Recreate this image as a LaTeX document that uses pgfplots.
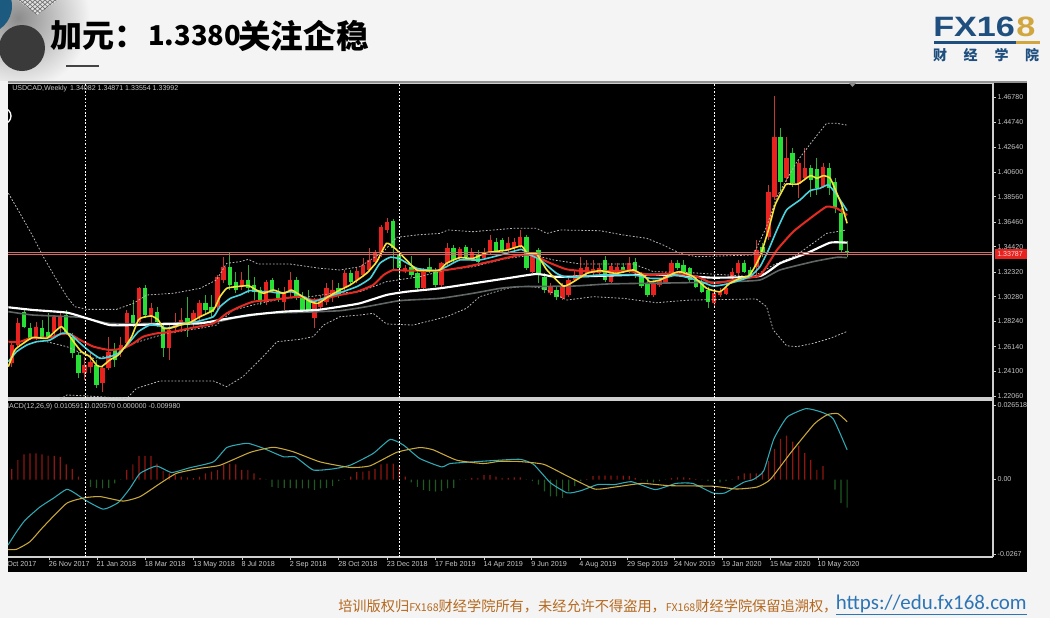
\documentclass[border=0pt]{standalone}
\usepackage{fontspec}
\usepackage{pgfplots}
\usepackage{pgfplotstable}
\pgfplotsset{compat=1.18}
\setmainfont{Liberation Sans}
\newfontfamily\cjk{Noto Sans CJK SC}
\newfontfamily\link{Carlito}
\definecolor{bgc}{HTML}{F4F4F4}
\definecolor{cR}{HTML}{E8231F}
\definecolor{cG}{HTML}{27DF35}
\definecolor{wR}{HTML}{C23A30}
\definecolor{wG}{HTML}{2FAE35}
\definecolor{eY}{HTML}{F6E23C}
\definecolor{eC}{HTML}{4CD3E0}
\definecolor{eR}{HTML}{E22B22}
\definecolor{eD}{HTML}{5F6665}
\definecolor{bb}{HTML}{B8B8B8}
\definecolor{hl}{HTML}{D46A66}
\definecolor{mC}{HTML}{2FA9B6}
\definecolor{mY}{HTML}{C9A93C}
\definecolor{hR}{HTML}{8E1712}
\definecolor{hG}{HTML}{1C5A20}
\definecolor{axc}{HTML}{CFCFCF}
\definecolor{lbl}{HTML}{C8C8C8}
\definecolor{fxb}{HTML}{1E4F7E}
\definecolor{fxg}{HTML}{D2A63E}
\definecolor{dBlue}{HTML}{1C5A80}
\definecolor{dDark}{HTML}{3A3A3A}
\definecolor{dBar}{HTML}{444444}
\definecolor{fOr}{HTML}{B4681E}
\definecolor{fLn}{HTML}{2E75B6}
\pgfplotstableread{
k top bot high low
2 1.2629 1.2477 1.2656 1.2449
3 1.2808 1.2629 1.2850 1.2615
6 1.2781 1.2684 1.2822 1.2670
9 1.2858 1.2739 1.2877 1.2712
10 1.2858 1.2781 1.2891 1.2725
14 1.2463 1.2394 1.2532 1.2339
15 1.2491 1.2449 1.2574 1.2394
17 1.2436 1.2311 1.2463 1.2242
18 1.2574 1.2436 1.2698 1.2422
20 1.2629 1.2574 1.2698 1.2532
21 1.2891 1.2643 1.2919 1.2615
23 1.3098 1.2822 1.3112 1.2794
25 1.2932 1.2863 1.2974 1.2808
28 1.2753 1.2601 1.2794 1.2505
29 1.2808 1.2767 1.2891 1.2725
30 1.2836 1.2794 1.2932 1.2753
32 1.2891 1.2822 1.2919 1.2767
33 1.2974 1.2863 1.3001 1.2836
36 1.3195 1.2946 1.3208 1.2919
37 1.3277 1.3167 1.3360 1.3139
40 1.3167 1.3112 1.3236 1.3084
44 1.3153 1.2988 1.3167 1.2960
47 1.3057 1.2988 1.3112 1.2919
48 1.3167 1.3084 1.3236 1.3029
52 1.2974 1.2850 1.3015 1.2767
53 1.3001 1.2946 1.3043 1.2919
54 1.3098 1.2988 1.3139 1.2960
55 1.3084 1.3029 1.3167 1.2988
57 1.3222 1.3112 1.3250 1.3084
59 1.3244 1.3167 1.3277 1.3139
60 1.3291 1.3208 1.3346 1.3195
61 1.3333 1.3250 1.3429 1.3236
62 1.3388 1.3319 1.3415 1.3291
63 1.3609 1.3388 1.3622 1.3360
64 1.3650 1.3581 1.3678 1.3553
67 1.3264 1.3244 1.3291 1.3222
70 1.3236 1.3098 1.3264 1.3084
73 1.3305 1.3126 1.3319 1.3112
74 1.3429 1.3305 1.3471 1.3291
76 1.3424 1.3346 1.3443 1.3333
78 1.3402 1.3346 1.3429 1.3333
80 1.3402 1.3346 1.3429 1.3333
81 1.3498 1.3402 1.3540 1.3374
84 1.3471 1.3415 1.3526 1.3402
85 1.3484 1.3429 1.3512 1.3415
86 1.3526 1.3443 1.3581 1.3429
88 1.3374 1.3236 1.3388 1.3222
91 1.3112 1.3057 1.3139 1.3043
93 1.3112 1.3015 1.3139 1.3001
94 1.3167 1.3043 1.3195 1.3029
95 1.3208 1.3167 1.3250 1.3153
96 1.3264 1.3208 1.3360 1.3195
97 1.3272 1.3222 1.3333 1.3195
98 1.3255 1.3222 1.3333 1.3195
99 1.3264 1.3222 1.3305 1.3195
101 1.3283 1.3153 1.3305 1.3139
102 1.3277 1.3222 1.3305 1.3208
104 1.3305 1.3250 1.3360 1.3222
108 1.3139 1.3043 1.3167 1.3029
109 1.3167 1.3126 1.3181 1.3112
110 1.3222 1.3153 1.3236 1.3139
111 1.3305 1.3222 1.3333 1.3208
118 1.3057 1.2974 1.3084 1.2946
119 1.3070 1.3043 1.3098 1.3029
120 1.3098 1.3051 1.3139 1.3043
121 1.3236 1.3195 1.3264 1.3167
122 1.3305 1.3228 1.3333 1.3208
125 1.3415 1.3277 1.3498 1.3195
127 1.3898 1.3526 1.3954 1.3498
128 1.4354 1.3857 1.4691 1.3829
130 1.4174 1.4009 1.4354 1.3981
132 1.4133 1.3962 1.4161 1.3843
133 1.4092 1.4009 1.4257 1.3995
136 1.4105 1.3940 1.4133 1.3926
}\redc
\pgfplotstableread{
k top bot high low
4 1.2899 1.2781 1.2919 1.2767
5 1.2767 1.2684 1.2808 1.2670
7 1.2767 1.2698 1.2836 1.2684
8 1.2739 1.2698 1.2891 1.2684
11 1.2877 1.2739 1.2919 1.2712
12 1.2698 1.2560 1.2725 1.2518
13 1.2546 1.2394 1.2574 1.2353
16 1.2463 1.2298 1.2505 1.2270
19 1.2587 1.2505 1.2643 1.2449
22 1.2877 1.2808 1.3001 1.2781
24 1.3098 1.2877 1.3126 1.2850
26 1.2899 1.2822 1.2946 1.2781
27 1.2781 1.2601 1.2808 1.2532
31 1.2850 1.2794 1.3029 1.2698
34 1.2974 1.2919 1.3043 1.2877
35 1.2946 1.2905 1.3043 1.2863
38 1.3277 1.3126 1.3388 1.3084
39 1.3153 1.3084 1.3236 1.3057
41 1.3167 1.3098 1.3291 1.3057
42 1.3126 1.3070 1.3195 1.3001
43 1.3084 1.2988 1.3112 1.2960
45 1.3167 1.3084 1.3181 1.3057
46 1.3057 1.3015 1.3098 1.2988
49 1.3167 1.3029 1.3195 1.3001
50 1.3029 1.2919 1.3070 1.2905
51 1.3001 1.2905 1.3084 1.2891
56 1.3098 1.3043 1.3139 1.3015
58 1.3222 1.3153 1.3250 1.3126
65 1.3658 1.3429 1.3669 1.3250
66 1.3374 1.3264 1.3402 1.3167
68 1.3277 1.3208 1.3366 1.3195
69 1.3222 1.3098 1.3264 1.3070
71 1.3277 1.3250 1.3346 1.3222
72 1.3236 1.3126 1.3264 1.3112
75 1.3429 1.3333 1.3457 1.3319
77 1.3443 1.3355 1.3457 1.3333
79 1.3374 1.3319 1.3415 1.3291
82 1.3484 1.3402 1.3512 1.3388
83 1.3498 1.3410 1.3512 1.3388
87 1.3526 1.3264 1.3540 1.3250
89 1.3415 1.3222 1.3429 1.3139
90 1.3195 1.3084 1.3222 1.3057
92 1.3084 1.3023 1.3112 1.3001
100 1.3333 1.3167 1.3366 1.3153
103 1.3277 1.3236 1.3305 1.3222
105 1.3319 1.3250 1.3346 1.3181
106 1.3208 1.3117 1.3236 1.3098
107 1.3139 1.3043 1.3167 1.3029
112 1.3305 1.3264 1.3333 1.3250
113 1.3291 1.3236 1.3333 1.3195
114 1.3264 1.3167 1.3277 1.3153
115 1.3167 1.3112 1.3195 1.3098
116 1.3153 1.3070 1.3181 1.3057
117 1.3084 1.2988 1.3112 1.2932
123 1.3310 1.3236 1.3333 1.3222
124 1.3250 1.3208 1.3277 1.3195
126 1.3443 1.3402 1.3471 1.3360
129 1.4354 1.3981 1.4423 1.3898
131 1.4221 1.3967 1.4257 1.3940
134 1.4092 1.3995 1.4119 1.3857
135 1.4083 1.3926 1.4174 1.3871
137 1.4092 1.3926 1.4133 1.3871
138 1.3981 1.3774 1.4009 1.3719
139 1.3719 1.3415 1.3760 1.3402
140 1.3408 1.3399 1.3487 1.3355
}\greenc
\pgfplotsset{
 panel/.style={scale only axis, width=738.75pt, xmin=1.37, xmax=164.1,
  axis x line*=bottom, axis y line*=right, axis line style={draw=axc, line width=0.8pt, -},
  tick style={draw=axc, line width=0.5pt}, tick align=outside, major tick length=2.2pt,
  clip=true, scaled y ticks=false, scaled x ticks=false,
  yticklabel style={text=lbl, font=\fontsize{5.3}{6}\selectfont, anchor=west, xshift=0.6pt, inner sep=0.5pt},
  xticklabel style={text=lbl, font=\fontsize{5.4}{6}\selectfont, anchor=north west, xshift=-1pt, yshift=-0.6pt, inner sep=0.5pt}},
 ma/.style={smooth, tension=0.3, no markers, line join=round, forget plot},
 band/.style={no markers, line width=0.6pt, bb, dash pattern=on 1.3pt off 1.3pt, forget plot},
}
\begin{document}
\begin{tikzpicture}
\clip (0,0) rectangle (787.5pt,-463.5pt);
\begin{scope}[x=0.75pt,y=-0.75pt]
\fill[bgc] (0,0) rectangle (1050,618);
\begin{scope}
\clip (0,0) rectangle (1050,80);
\shade[inner color=black!45, outer color=bgc] (18,18) circle (72);
\begin{scope}
\clip (18,0) -- (58,0) -- (37,15) -- cycle;
\fill[black!12] (18,0) rectangle (58,15);
\foreach \i in {-8,...,12} {
 \draw[black!60,line width=0.45pt] (20+\i*5,0) -- (45+\i*5,22);
 \draw[black!60,line width=0.45pt] (55+\i*5,0) -- (30+\i*5,22);}
\end{scope}
\fill[dBlue] (-16,6) circle (28) ;
\fill[dDark] (22,48) circle (23);
\end{scope}
\node[anchor=west,inner sep=0,font=\cjk\bfseries\fontsize{24}{26}\selectfont] at (50,36) {加元：};
\node[anchor=west,inner sep=0,font=\cjk\bfseries\fontsize{20.5}{26}\selectfont] at (148,36) {1.3380};
\node[anchor=west,inner sep=0,font=\cjk\bfseries\fontsize{24.5}{26}\selectfont] at (238,36) {关注企稳};
\fill[dBar] (66,65) rectangle (99,67);
\node[anchor=west,inner sep=0,xscale=1.22,transform shape,font=\bfseries\fontsize{21}{24}\selectfont,text=fxb] at (933,27) {FX16};
\node[anchor=west,inner sep=0,xscale=1.22,transform shape,font=\bfseries\fontsize{21}{24}\selectfont,text=fxg] at (1016,27) {8};
\fill[fxb] (934,41) rectangle (1016,44);
\fill[fxg] (1016,41) rectangle (1040,44);
\foreach \x/\c in {940/财,970.5/经,1001.5/学,1032/院}
 \node[inner sep=0,text=fxb,font=\cjk\bfseries\fontsize{10.5}{12}\selectfont] at (\x,55) {\c};
\fill[black] (8,83) rectangle (1027,572);
\fill[bgc!60!black] (8,81) rectangle (1027,83);
\end{scope}
\begin{axis}[panel, at={(6pt,-298.5pt)}, anchor=south west, height=236.25pt,
  ymin=1.2190, ymax=1.4798, xtick=\empty,
  ytick={1.2206,1.2410,1.2614,1.2824,1.3028,1.3232,1.3442,1.3646,1.3856,1.4060,1.4264,1.4474,1.4678},
  yticklabels={1.22060,1.24100,1.26140,1.28240,1.30280,1.32320,1.34420,1.36460,1.38560,1.40600,1.42640,1.44740,1.46780}]
\addplot[draw=none,no markers,forget plot,error bars/.cd,y dir=plus,y explicit,error mark=none,error bar style={draw=wR,line width=0.55pt}] table[x=k,y=low,y error expr=\thisrow{high}-\thisrow{low}] {\redc};
\addplot[draw=none,no markers,forget plot,error bars/.cd,y dir=plus,y explicit,error mark=none,error bar style={draw=wG,line width=0.55pt}] table[x=k,y=low,y error expr=\thisrow{high}-\thisrow{low}] {\greenc};
\addplot[draw=none,no markers,forget plot,error bars/.cd,y dir=plus,y explicit,error mark=none,error bar style={draw=cR,line width=3.3pt}] table[x=k,y=bot,y error expr=\thisrow{top}-\thisrow{bot}] {\redc};
\addplot[draw=none,no markers,forget plot,error bars/.cd,y dir=plus,y explicit,error mark=none,error bar style={draw=cG,line width=3.3pt}] table[x=k,y=bot,y error expr=\thisrow{top}-\thisrow{bot}] {\greenc};
% Bollinger bands
\addplot[band] coordinates {(1.43,1.3885)(3.35,1.3719)(5.5,1.3526)(7.2,1.3360)(9.1,1.3195)(11.1,1.3029)(12.4,1.2946)(14.4,1.2924)(19.3,1.2924)(22.1,1.2974)(24.3,1.3043)(28.7,1.3057)(33.1,1.3098)(35.8,1.3167)(37.5,1.3305)(39.7,1.3319)(41.1,1.3338)(42.7,1.3299)(48,1.3299)(52.9,1.3264)(56.2,1.3250)(59.5,1.3277)(63.4,1.3402)(65.6,1.3520)(68.9,1.3540)(72.7,1.3553)(74.1,1.3581)(78.2,1.3567)(84.9,1.3595)(88.7,1.3595)(90.4,1.3553)(92.6,1.3581)(99.2,1.3575)(103,1.3540)(106.9,1.3512)(109.6,1.3457)(112.4,1.3388)(115.1,1.3360)(124.5,1.3374)(126.7,1.3609)(128.4,1.3857)(131.7,1.4147)(134.4,1.4326)(136.6,1.4464)(138.3,1.4464)(139.9,1.4450)};
\addplot[band] coordinates {(9,1.2150)(11.1,1.2215)(14.4,1.2207)(21,1.2187)(22.6,1.2270)(26.5,1.2331)(35.3,1.2331)(37.5,1.2284)(40.2,1.2367)(43.5,1.2532)(45.8,1.2656)(49.6,1.2676)(51.8,1.2698)(53.5,1.2794)(56.2,1.2863)(59.5,1.2877)(61.7,1.2891)(63.9,1.2803)(68.3,1.2794)(73.8,1.2863)(77.1,1.2932)(79.3,1.3029)(83.8,1.3098)(87.1,1.3117)(89.8,1.3098)(93.7,1.3001)(98.1,1.3029)(103,1.3015)(108.5,1.2979)(114,1.3001)(125,1.3010)(126.7,1.2946)(127.8,1.2753)(130,1.2623)(131.7,1.2615)(134.4,1.2643)(137.2,1.2684)(139.9,1.2739)};
\addplot[band] coordinates {(7.76,1.2656)(11.1,1.2615)(15.5,1.2518)(18.8,1.2546)(22.1,1.2643)(24.8,1.2684)(27.6,1.2725)(33.1,1.2767)(35.8,1.2794)(38.6,1.2919)(43,1.2974)(46.9,1.3015)(51.3,1.3029)(55.1,1.3057)(59.5,1.3070)(63.9,1.3153)(69.4,1.3195)(73.8,1.3250)(78.2,1.3277)(83.8,1.3346)(88.2,1.3374)(91.5,1.3333)(95.9,1.3300)(104.7,1.3300)(108,1.3236)(114,1.3228)(124.5,1.3195)(127.8,1.3291)(131.1,1.3360)(132.8,1.3415)(136.6,1.3553)(139.9,1.3581)};
% dark slow average
\addplot[ma,eD,line width=1.2pt] coordinates {(1.43,1.2905)(5.5,1.2877)(13.3,1.2858)(18.2,1.2808)(26.5,1.2808)(35.8,1.2822)(38.6,1.2850)(44.1,1.2891)(49.6,1.2899)(56.2,1.2913)(60.6,1.2946)(66.1,1.2996)(72.7,1.3015)(78.2,1.3057)(82.7,1.3098)(86,1.3112)(94.8,1.3117)(100.3,1.3134)(105.8,1.3139)(114,1.3145)(120.6,1.3153)(125.6,1.3167)(128.9,1.3250)(134.4,1.3319)(138.3,1.3355)(140,1.3352)};
% white
\addplot[ma,white,line width=1.6pt] coordinates {(1.43,1.2941)(5.5,1.2919)(11.1,1.2897)(14.4,1.2850)(18.2,1.2794)(22.1,1.2794)(27.6,1.2803)(33.1,1.2808)(36.4,1.2836)(41.3,1.2877)(46.9,1.2905)(52.4,1.2919)(56.2,1.2946)(59.5,1.2974)(63.9,1.3043)(67.2,1.3070)(72.7,1.3098)(78.2,1.3139)(83.8,1.3181)(88.7,1.3217)(91.5,1.3195)(94.8,1.3195)(100.3,1.3203)(105.8,1.3211)(111.3,1.3208)(117.9,1.3186)(125.6,1.3200)(128.9,1.3305)(133.3,1.3388)(137.2,1.3476)(140,1.3476)};
% red
\addplot[ma,eR,line width=1.5pt] coordinates {(1.43,1.2656)(3.35,1.2656)(5,1.2684)(8.3,1.2692)(10.2,1.2720)(11.6,1.2720)(13.3,1.2670)(15.5,1.2615)(18.2,1.2587)(20.4,1.2601)(22.1,1.2643)(23.7,1.2698)(25.9,1.2725)(28.7,1.2739)(31.4,1.2767)(35.3,1.2808)(37.5,1.2891)(39.7,1.2946)(41.9,1.2988)(44.7,1.3001)(46.9,1.3015)(49.6,1.3029)(51.8,1.3001)(54,1.3015)(56.2,1.3043)(59,1.3070)(61.7,1.3126)(63.4,1.3208)(65,1.3250)(67.2,1.3244)(72.2,1.3244)(73.8,1.3250)(77.1,1.3277)(81,1.3319)(85.9,1.3374)(88.2,1.3374)(90.4,1.3319)(93.7,1.3255)(98.1,1.3236)(103.6,1.3244)(107.4,1.3208)(111.3,1.3222)(115.1,1.3195)(117.9,1.3139)(121.2,1.3167)(125.6,1.3208)(128.4,1.3415)(131.1,1.3567)(133.9,1.3678)(136.6,1.3774)(138.3,1.3760)(140,1.3705)};
% cyan
\addplot[ma,eC,line width=1.2pt] coordinates {(1.43,1.2491)(2.8,1.2574)(4.5,1.2629)(6.1,1.2656)(8.3,1.2670)(10.2,1.2725)(11.6,1.2720)(13.3,1.2643)(14.9,1.2574)(16.6,1.2518)(18.2,1.2532)(19.6,1.2560)(21.3,1.2643)(22.9,1.2739)(24.8,1.2794)(26.5,1.2786)(27.6,1.2767)(29.8,1.2794)(32.5,1.2822)(35.3,1.2863)(36.4,1.2946)(38.1,1.3015)(39.7,1.3043)(41.3,1.3079)(43,1.3070)(44.7,1.3070)(46.3,1.3057)(48.2,1.3070)(50.2,1.3029)(51.8,1.2988)(53.5,1.3015)(55.1,1.3043)(59,1.3112)(61.2,1.3181)(62.8,1.3305)(64.5,1.3355)(66.1,1.3341)(68.9,1.3264)(72.2,1.3244)(73.8,1.3277)(76,1.3333)(79.3,1.3333)(82.7,1.3374)(86.2,1.3421)(87.1,1.3388)(89.3,1.3333)(92,1.3222)(93.7,1.3189)(97,1.3200)(99.2,1.3208)(104.7,1.3208)(107.4,1.3181)(109.6,1.3181)(111.8,1.3208)(115.1,1.3167)(117.9,1.3117)(120.6,1.3139)(123.9,1.3195)(125.6,1.3277)(127,1.3415)(128.4,1.3581)(130,1.3747)(132.2,1.3829)(133.9,1.3907)(135.5,1.3926)(136.9,1.3954)(138.3,1.3871)(140,1.3741)};
% yellow
\addplot[ma,eY,line width=1.2pt] coordinates {(1.43,1.2449)(2.5,1.2587)(3.9,1.2643)(5.5,1.2692)(7.76,1.2684)(9.1,1.2739)(10.2,1.2781)(11.3,1.2720)(12.4,1.2643)(13.5,1.2574)(14.9,1.2532)(16,1.2463)(16.8,1.2449)(18.2,1.2505)(19.6,1.2546)(20.7,1.2615)(21.8,1.2698)(22.9,1.2836)(23.7,1.2858)(25.1,1.2869)(26.2,1.2836)(27,1.2767)(28.1,1.2767)(29.8,1.2794)(31.4,1.2814)(33.1,1.2863)(35.3,1.2919)(36.4,1.3029)(37.5,1.3098)(39.1,1.3112)(41.1,1.3120)(42.4,1.3084)(43.6,1.3057)(45.2,1.3084)(46.9,1.3057)(48.2,1.3084)(49.6,1.3043)(51.3,1.2988)(52.6,1.2974)(54.3,1.3029)(56.2,1.3084)(57.9,1.3126)(60.6,1.3222)(62.3,1.3319)(63.9,1.3471)(65.3,1.3429)(67.2,1.3333)(68.9,1.3250)(71.1,1.3244)(72.7,1.3250)(73.8,1.3305)(76,1.3352)(78.2,1.3346)(80.4,1.3393)(83.8,1.3415)(86.2,1.3449)(87.1,1.3393)(88.7,1.3382)(90.4,1.3250)(93.1,1.3117)(94.8,1.3153)(97,1.3222)(99.2,1.3244)(101.9,1.3222)(104.7,1.3250)(106.6,1.3195)(107.4,1.3153)(109.1,1.3167)(111.3,1.3222)(112.4,1.3236)(114.6,1.3195)(116.8,1.3098)(119,1.3070)(120.6,1.3139)(122.3,1.3181)(123.9,1.3208)(125.6,1.3360)(127,1.3581)(128.1,1.3788)(129.5,1.3926)(130,1.3962)(131.9,1.3962)(133.9,1.4031)(135,1.4009)(136.1,1.4031)(137.2,1.4009)(138.3,1.3885)(139.1,1.3788)(140,1.3636)};
% horizontal price lines
\addplot[hl,line width=0.6pt,forget plot] coordinates {(1.37,1.3393)(164.1,1.3393)};
\addplot[hl,line width=0.6pt,forget plot] coordinates {(1.37,1.3376)(164.1,1.3376)};
% period separators
\addplot[white,line width=0.6pt,dash pattern=on 1.3pt off 1.3pt,forget plot] coordinates {(14.2,1.2190)(14.2,1.4798)};
\addplot[white,line width=0.6pt,dash pattern=on 1.3pt off 1.3pt,forget plot] coordinates {(66.03,1.2190)(66.03,1.4798)};
\addplot[white,line width=0.6pt,dash pattern=on 1.3pt off 1.3pt,forget plot] coordinates {(118,1.2190)(118,1.4798)};
\end{axis}
\begin{axis}[panel, at={(6pt,-417.75pt)}, anchor=south west, height=117.75pt,
  ymin=-0.02767, ymax=0.02838,
  ytick={-0.0267,0,0.026518}, yticklabels={-0.0267,0.00,0.026518},
  xtick={8.19,16.07,24.05,32.05,40.02,48,56,64.02,72,80,87.9,95.85,103.7,111.5,119.4,127.35,135.2},
  xticklabels={26 Nov 2017,21 Jan 2018,18 Mar 2018,13 May 2018,8 Jul 2018,2 Sep 2018,28 Oct 2018,23 Dec 2018,17 Feb 2019,14 Apr 2019,9 Jun 2019,4 Aug 2019,29 Sep 2019,24 Nov 2019,19 Jan 2020,15 Mar 2020,10 May 2020}]
\addplot[ybar,bar width=0.9pt,bar shift=0pt,fill=hR,draw=none,forget plot] coordinates {(2,.0038)(3,.0069)(4,.0090)(5,.0093)(6,.0093)(7,.0090)(8,.0085)(9,.0084)(10,.0081)(11,.0054)(12,.0038)(13,.0010)(21,.0034)(22,.0054)(23,.0084)(24,.0084)(25,.0084)(26,.0057)(27,.0031)(28,.0022)(29,.0016)(30,.0010)(31,.0008)(32,.0005)(33,.0010)(34,.0022)(35,.0028)(36,.0034)(37,.0054)(38,.0057)(39,.0054)(40,.0034)(41,.0034)(42,.0022)(43,.0005)(58,.0010)(59,.0026)(60,.0028)(61,.0031)(62,.0038)(63,.0054)(64,.0057)(65,.0057)(66,.0045)(67,.0010)(78,.0006)(79,.0006)(80,.0016)(81,.0016)(82,.0010)(83,.0006)(84,.0006)(85,.0008)(86,.0008)(97,.0001)(98,.0012)(99,.0014)(100,.0014)(101,.0014)(102,.0014)(103,.0014)(104,.0012)(105,.0006)(111,.0006)(112,.0008)(113,.0008)(114,.0005)(115,.0001)(121,.0001)(122,.0012)(123,.0022)(124,.0022)(125,.0022)(126,.0030)(127,.0066)(128,.0109)(129,.0145)(130,.0157)(131,.0135)(132,.0121)(133,.0094)(134,.0070)(135,.0034)(136,.0048)};
\addplot[ybar,bar width=0.9pt,bar shift=0pt,fill=hG,draw=none,forget plot] coordinates {(14,-.0001)(15,-.0026)(16,-.0030)(17,-.0032)(18,-.0030)(19,-.0014)(20,-.0001)(44,-.0001)(45,-.0026)(46,-.0030)(47,-.0030)(48,-.0030)(49,-.0032)(50,-.0032)(51,-.0032)(52,-.0037)(53,-.0032)(54,-.0030)(55,-.0023)(56,-.0006)(57,-.0001)(68,-.0010)(69,-.0026)(70,-.0037)(71,-.0041)(72,-.0043)(73,-.0041)(74,-.0032)(75,-.0030)(76,-.0002)(77,-.0001)(87,-.0001)(88,-.0006)(89,-.0018)(90,-.0042)(91,-.0060)(92,-.0060)(93,-.0066)(94,-.0042)(95,-.0024)(96,-.0006)(106,-.0002)(107,-.0010)(108,-.0010)(109,-.0006)(110,-.0001)(116,-.0002)(117,-.0006)(118,-.0010)(119,-.0010)(120,-.0006)(138,-.0036)(139,-.0084)(140,-.0100)};
\addplot[ma,mC,line width=0.8pt] coordinates {(1.37,-.0234)(2.8,-.0186)(4.2,-.0145)(6.66,-.0098)(8.86,-.0067)(11.06,-.0035)(12.44,-.0049)(14.09,-.0073)(17.12,-.0106)(19.6,-.0082)(21.5,-.0032)(23.2,.0022)(25.9,.0048)(28.4,.0025)(31.4,.0042)(35.3,.0063)(37.5,.0114)(39.7,.0126)(41.1,.0129)(43.5,.0112)(46.9,.0081)(48.8,.0081)(51.8,.0034)(55.1,.0038)(57.9,.0051)(61.7,.0093)(64.5,.0143)(66.7,.0123)(69.4,.0075)(73,.0045)(74.4,.0057)(78.2,.0063)(82.6,.0069)(86,.0072)(88.2,.0054)(91,-.0012)(93.8,-.0048)(96,-.0040)(98.8,-.0018)(101.6,-.0018)(104.4,-.0008)(108.3,-.0036)(111.7,-.0014)(114.5,-.0014)(117.8,-.0048)(119.8,-.0048)(122.9,-.0010)(124.5,0)(126.2,.0030)(127.9,.0145)(130.1,.0223)(133.2,.0253)(135.7,.0241)(137.7,.0217)(140,.0106)};
\addplot[ma,mY,line width=0.8pt] coordinates {(1.37,-.0250)(2.8,-.0249)(5,-.0222)(7.2,-.0169)(11.06,-.0085)(14.09,-.0065)(16.6,-.0061)(20.4,-.0077)(23.2,-.0061)(26.5,-.0014)(29.2,.0022)(33.1,.0040)(36.4,.0051)(41.4,.0097)(45.2,.0115)(48.5,.0099)(52.9,.0063)(57.9,.0043)(61.2,.0049)(65.6,.0097)(69.4,.0114)(71.6,.0106)(75.5,.0069)(79.9,.0057)(82.6,.0065)(86,.0064)(89.9,.0054)(93.8,.0012)(98.3,-.0034)(101.6,-.0027)(106.1,-.0014)(110.6,-.0022)(117.8,-.0024)(121.7,-.0034)(125.1,-.0027)(127.3,0)(130.7,.0096)(134.6,.0199)(136.8,.0232)(138.5,.0235)(140,.0206)};
\addplot[white,line width=0.6pt,dash pattern=on 1.3pt off 1.3pt,forget plot] coordinates {(14.2,-.02767)(14.2,.02838)};
\addplot[white,line width=0.6pt,dash pattern=on 1.3pt off 1.3pt,forget plot] coordinates {(66.03,-.02767)(66.03,.02838)};
\addplot[white,line width=0.6pt,dash pattern=on 1.3pt off 1.3pt,forget plot] coordinates {(118,-.02767)(118,.02838)};
\end{axis}
\begin{scope}[x=0.75pt,y=-0.75pt]
\draw[axc,line width=0.8pt] (8,400) -- (993,400);
\draw[axc,line width=0.8pt] (8,83.5) -- (993,83.5);
\draw[axc,line width=0.8pt] (993,83) -- (993,557);
\fill[black!45] (849,83) -- (856,83) -- (852.5,87) -- cycle;
\fill[cR] (995,248.5) rectangle (1027,259);
\node[inner sep=0,anchor=west,text=white!85!red,font=\fontsize{5.3}{6}\selectfont] at (997,254) {1.33787};
\begin{scope}
\clip (8,83) rectangle (1027,572);
\node[inner sep=0,anchor=west,text=lbl,font=\fontsize{5.3}{6}\selectfont] at (12,89) {USDCAD,Weekly \,1.34082 1.34871 1.33554 1.33992};
\node[inner sep=0,anchor=west,text=lbl,font=\fontsize{5.3}{6}\selectfont] at (3,407) {MACD(12,26,9) 0.010591 0.020570 0.000000 -0.009980};
\node[inner sep=0,anchor=west,text=lbl,font=\fontsize{5.4}{6}\selectfont] at (1,564) {1 Oct 2017};
\draw[white,line width=1pt] (3,116) circle (8);
\end{scope}
\node[anchor=west,inner sep=0,text=fOr,font=\cjk\fontsize{10.65}{12}\selectfont] at (338,606) {培训版权归{\fontsize{8}{10}\selectfont FX168}财经学院所有，未经允许不得盗用，{\fontsize{8}{10}\selectfont FX168}财经学院保留追溯权，};
\node[anchor=east,inner sep=0,text=fLn,font=\link\fontsize{15.7}{17}\selectfont] at (1027,605) {\underline{https://edu.fx168.com}};
\end{scope}
\end{tikzpicture}
\end{document}
